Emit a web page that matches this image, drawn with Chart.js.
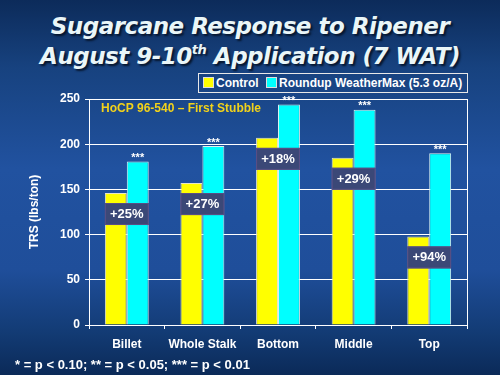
<!DOCTYPE html>
<html lang="en">
<head>
    <meta charset="UTF-8">
    <title>Sugarcane Response to Ripener</title>
    <script src="https://cdn.jsdelivr.net/npm/chart.js"></script>
    <style>
        html, body { margin: 0; padding: 0; }
        body {
            width: 500px;
            height: 375px;
            overflow: hidden;
            position: relative;
            font-family: "Liberation Sans", Arial, sans-serif;
            background: linear-gradient(to bottom, #0c2b5a 0%, #17427f 18%, #2152a0 45%, #1f4e9a 72%, #133c76 88%, #0b2a58 100%);
        }
        .titulo {
            position: absolute;
            left: 0; top: 11px; width: 500px;
            text-align: center;
            color: #eaf6f8;
            font-family: "DejaVu Sans", Verdana, sans-serif;
            font-weight: bold;
            font-style: italic;
            font-size: 23px;
            letter-spacing: -0.5px;
            line-height: 30px;
            text-shadow: 2px 2px 2px #06162e;
        }
        .titulo sup { font-size: 13px; vertical-align: 10px; line-height: 0; }
        .legenda {
            position: absolute;
            left: 198px; top: 73px; width: 268px; height: 18px;
            border: 1px solid #e8e8e8;
            color: #fff;
            font-weight: bold;
            font-size: 12px;
            line-height: 18px;
            white-space: nowrap;
        }
        .legenda span.cx {
            display: inline-block; width: 9px; height: 9px;
            border: 1px solid #ddd; vertical-align: -1px; margin: 0 2px 0 4px;
        }
        .rodape {
            position: absolute;
            left: 15px; top: 357px;
            color: #fff; font-weight: bold; font-size: 13px;
        }
        #grafico { position: absolute; left: 0; top: 0; }
    </style>
</head>
<body>

    <div class="titulo">Sugarcane Response to Ripener<br>August 9-10<sup>th</sup> Application (7 WAT)</div>

    <div class="legenda"><span class="cx" style="background:#ffff00"></span>Control <span class="cx" style="background:#00ffff"></span>Roundup WeatherMax (5.3 oz/A)</div>

    <canvas id="grafico" width="500" height="375"></canvas>

    <div class="rodape">* = p &lt; 0.10; ** = p &lt; 0.05; *** = p &lt; 0.01</div>

    <script>
        // dados
        const categorias = ['Billet', 'Whole Stalk', 'Bottom', 'Middle', 'Top'];
        const controle = [146, 157, 207, 185, 98];
        const roundup = [181, 198, 244, 238, 190];
        const aumentos = ['+25%', '+27%', '+18%', '+29%', '+94%'];
        const significancia = ['***', '***', '***', '***', '***'];
        const subtitulo = 'HoCP 96-540 \u2013 First Stubble';

        // rótulos desenhados por cima das barras
        const rotulos = {
            id: 'rotulos',
            afterDatasetsDraw(chart) {
                const ctx = chart.ctx;
                const area = chart.chartArea;
                const metaC = chart.getDatasetMeta(0);
                const metaR = chart.getDatasetMeta(1);
                ctx.save();

                // borda direita da área
                ctx.strokeStyle = '#ffffff';
                ctx.lineWidth = 1;
                ctx.beginPath();
                ctx.moveTo(Math.round(area.right) + 0.5, area.top);
                ctx.lineTo(Math.round(area.right) + 0.5, area.bottom);
                ctx.stroke();

                ctx.fillStyle = '#f2d21a';
                ctx.font = 'bold 12px "Liberation Sans", Arial, sans-serif';
                ctx.textAlign = 'left';
                ctx.textBaseline = 'middle';
                ctx.fillText(subtitulo, area.left + 12, area.top + 10);

                for (let i = 0; i < categorias.length; i++) {
                    const c = metaC.data[i];
                    const r = metaR.data[i];

                    ctx.fillStyle = '#ffffff';
                    ctx.font = 'bold 11px "Liberation Sans", Arial, sans-serif';
                    ctx.textAlign = 'center';
                    ctx.textBaseline = 'bottom';
                    ctx.fillText(significancia[i], r.x, r.y + 2);

                    const esq = c.x - c.width / 2;
                    const dir = r.x + r.width / 2;
                    const topo = c.y + 10;
                    ctx.fillStyle = '#3b4877';
                    ctx.fillRect(esq, topo, dir - esq, 22);
                    ctx.strokeStyle = '#5a4f86';
                    ctx.lineWidth = 1;
                    ctx.strokeRect(esq + 0.5, topo + 0.5, dir - esq - 1, 21);
                    ctx.fillStyle = '#ffffff';
                    ctx.font = 'bold 13px "Liberation Sans", Arial, sans-serif';
                    ctx.textBaseline = 'middle';
                    ctx.fillText(aumentos[i], (esq + dir) / 2, topo + 11.5);
                }
                ctx.restore();
            }
        };

        new Chart(document.getElementById('grafico'), {
            type: 'bar',
            data: {
                labels: categorias,
                datasets: [{
                    label: 'Control',
                    data: controle,
                    backgroundColor: '#ffff00',
                    borderColor: '#e6e6c8',
                    borderWidth: 1,
                    categoryPercentage: 0.58,
                    barPercentage: 1
                }, {
                    label: 'Roundup WeatherMax (5.3 oz/A)',
                    data: roundup,
                    backgroundColor: '#00ffff',
                    borderColor: '#d8f0f0',
                    borderWidth: 1,
                    categoryPercentage: 0.58,
                    barPercentage: 1
                }]
            },
            options: {
                responsive: false,
                animation: false,
                layout: { padding: { top: 99, right: 33, left: 0, bottom: 0 } },
                plugins: {
                    legend: { display: false },
                    tooltip: { enabled: false }
                },
                scales: {
                    x: {
                        afterFit(scale) { scale.height = 50; },
                        grid: { drawOnChartArea: false, color: '#ffffff', tickLength: 4 },
                        border: { color: '#ffffff', width: 1 },
                        ticks: {
                            color: '#ffffff',
                            padding: 8,
                            font: { family: '"Liberation Sans", Arial, sans-serif', size: 12, weight: 'bold' }
                        }
                    },
                    y: {
                        min: 0,
                        max: 250,
                        afterFit(scale) { scale.width = 89; },
                        grid: { color: '#ffffff', lineWidth: 1, tickLength: 4 },
                        border: { color: '#ffffff', width: 1 },
                        ticks: {
                            stepSize: 50,
                            color: '#ffffff',
                            padding: 5,
                            font: { family: '"Liberation Sans", Arial, sans-serif', size: 12, weight: 'bold' }
                        },
                        title: {
                            display: true,
                            text: 'TRS (lbs/ton)',
                            color: '#ffffff',
                            padding: { top: 27, bottom: 0 },
                            font: { family: '"Liberation Sans", Arial, sans-serif', size: 12, weight: 'bold' }
                        }
                    }
                }
            },
            plugins: [rotulos]
        });
    </script>

</body>
</html>
